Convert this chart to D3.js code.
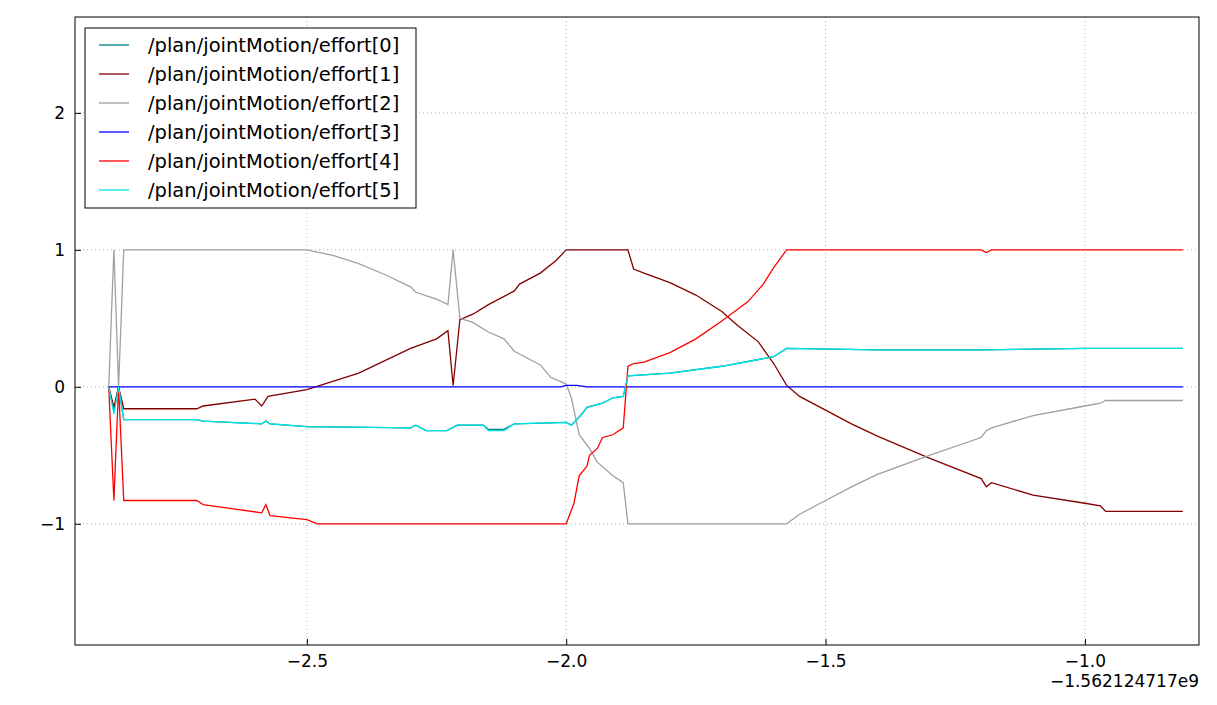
<!DOCTYPE html>
<html><head><meta charset="utf-8">
<script src="https://cdn.jsdelivr.net/npm/d3@7"></script>
<style>body{margin:0;background:#fff;font-family:"DejaVu Sans",sans-serif}</style>
</head><body>
<svg id="chart" width="1217" height="705"></svg>
<script>
const names = ["/plan/jointMotion/effort[0]","/plan/jointMotion/effort[1]","/plan/jointMotion/effort[2]",
  "/plan/jointMotion/effort[3]","/plan/jointMotion/effort[4]","/plan/jointMotion/effort[5]"];
const colors = ["#008080","#800000","#a0a0a0","#0000ff","#ff0000","#00e5e5"];
const xTicks = [-2.5, -2.0, -1.5, -1.0];
const yTicks = [-1, 0, 1, 2];

const effort5 = [[-2.882,0],[-2.872,-0.2],[-2.863,0],[-2.853,-0.24],[-2.712,-0.24],[-2.7,-0.25],[-2.587,-0.27],[-2.579,-0.25],[-2.571,-0.27],[-2.5,-0.29],[-2.3,-0.3],[-2.29,-0.28],[-2.27,-0.32],[-2.23,-0.32],[-2.21,-0.28],[-2.16,-0.28],[-2.15,-0.32],[-2.12,-0.32],[-2.1,-0.27],[-2.0,-0.26],[-1.99,-0.28],[-1.97,-0.2],[-1.96,-0.15],[-1.93,-0.12],[-1.91,-0.08],[-1.89,-0.07],[-1.881,0.08],[-1.8,0.1],[-1.7,0.15],[-1.6,0.22],[-1.575,0.28],[-1.4,0.27],[-1.2,0.27],[-1.0,0.28],[-0.811,0.28]];
const effort0 = [[-2.882,0],[-2.872,-0.17],[-2.863,0],[-2.853,-0.24],[-2.712,-0.24],[-2.7,-0.25],[-2.587,-0.27],[-2.579,-0.25],[-2.571,-0.27],[-2.5,-0.29],[-2.3,-0.3],[-2.29,-0.28],[-2.27,-0.32],[-2.23,-0.32],[-2.21,-0.28],[-2.16,-0.28],[-2.15,-0.31],[-2.12,-0.31],[-2.1,-0.27],[-2.0,-0.26],[-1.99,-0.28],[-1.97,-0.2],[-1.96,-0.15],[-1.93,-0.12],[-1.91,-0.08],[-1.89,-0.07],[-1.881,0.08],[-1.8,0.1],[-1.7,0.15],[-1.6,0.22],[-1.575,0.28],[-1.4,0.27],[-1.2,0.27],[-1.0,0.28],[-0.811,0.28]];
const effort1 = [[-2.882,0],[-2.872,-0.15],[-2.863,0],[-2.853,-0.16],[-2.712,-0.16],[-2.7,-0.14],[-2.6,-0.09],[-2.587,-0.14],[-2.575,-0.07],[-2.5,-0.02],[-2.4,0.1],[-2.3,0.28],[-2.25,0.35],[-2.228,0.41],[-2.218,0.01],[-2.205,0.49],[-2.18,0.53],[-2.15,0.6],[-2.1,0.7],[-2.09,0.75],[-2.05,0.83],[-2.02,0.92],[-2.0,1],[-1.881,1],[-1.87,0.86],[-1.85,0.83],[-1.8,0.76],[-1.75,0.67],[-1.7,0.55],[-1.67,0.45],[-1.63,0.33],[-1.6,0.17],[-1.575,0.01],[-1.55,-0.07],[-1.5,-0.17],[-1.45,-0.27],[-1.4,-0.36],[-1.3,-0.52],[-1.2,-0.67],[-1.19,-0.73],[-1.18,-0.7],[-1.1,-0.79],[-1.0,-0.85],[-0.97,-0.87],[-0.96,-0.91],[-0.811,-0.91]];
const effort2 = [[-2.882,0],[-2.872,1],[-2.863,0],[-2.853,1],[-2.5,1],[-2.45,0.96],[-2.4,0.9],[-2.35,0.82],[-2.3,0.73],[-2.29,0.69],[-2.25,0.64],[-2.228,0.6],[-2.218,1],[-2.205,0.5],[-2.18,0.47],[-2.15,0.4],[-2.12,0.35],[-2.1,0.26],[-2.05,0.16],[-2.03,0.07],[-2.0,0.02],[-1.99,-0.08],[-1.975,-0.35],[-1.955,-0.45],[-1.94,-0.55],[-1.91,-0.65],[-1.89,-0.7],[-1.881,-1],[-1.575,-1],[-1.55,-0.93],[-1.5,-0.83],[-1.45,-0.73],[-1.4,-0.64],[-1.3,-0.5],[-1.2,-0.37],[-1.19,-0.32],[-1.18,-0.3],[-1.1,-0.21],[-1.0,-0.14],[-0.97,-0.12],[-0.96,-0.1],[-0.811,-0.1]];
const effort3 = [[-2.882,0],[-2.1,0],[-2.01,0],[-2.0,0.01],[-1.98,0.01],[-1.96,0],[-0.811,0]];
const effort4 = [[-2.882,0],[-2.872,-0.83],[-2.863,0],[-2.853,-0.83],[-2.712,-0.83],[-2.7,-0.86],[-2.587,-0.92],[-2.579,-0.86],[-2.571,-0.94],[-2.5,-0.97],[-2.48,-1],[-2.0,-1],[-1.985,-0.85],[-1.975,-0.65],[-1.96,-0.58],[-1.955,-0.5],[-1.94,-0.45],[-1.93,-0.37],[-1.91,-0.35],[-1.89,-0.3],[-1.881,0.15],[-1.87,0.17],[-1.85,0.18],[-1.8,0.25],[-1.75,0.35],[-1.7,0.48],[-1.65,0.62],[-1.62,0.75],[-1.6,0.87],[-1.575,1],[-1.2,1],[-1.19,0.98],[-1.18,1],[-0.811,1]];
const series = [effort0, effort1, effort2, effort3, effort4, effort5];

const svg = d3.select("#chart");
const margin = {left: 75, right: 18, top: 17, bottom: 60};
const W = 1217, H = 705;
const x = d3.scaleLinear().domain([-2.947, -0.78]).range([margin.left, W - margin.right]);
const y = d3.scaleLinear().domain([-1.885, 2.7]).range([H - margin.bottom, margin.top]);
const fmt = d => d3.format(".1f")(d).replace("-", "\u2212");

// grid
svg.append("g").selectAll("line").data(xTicks).enter().append("line")
  .attr("x1", d => x(d)).attr("x2", d => x(d)).attr("y1", margin.top).attr("y2", H - margin.bottom)
  .attr("stroke", "#b0b0b0").attr("stroke-dasharray", "1,3");
svg.append("g").selectAll("line").data(yTicks).enter().append("line")
  .attr("y1", d => y(d)).attr("y2", d => y(d)).attr("x1", margin.left).attr("x2", W - margin.right)
  .attr("stroke", "#b0b0b0").attr("stroke-dasharray", "1,3");

// lines
const line = d3.line().x(d => x(d[0])).y(d => y(d[1]));
series.forEach((s, i) => {
  svg.append("path").datum(s).attr("fill", "none").attr("stroke", colors[i]).attr("stroke-width", 1.3).attr("d", line);
});

// axes
const xAxis = d3.axisBottom(x).tickValues(xTicks).tickFormat(fmt).tickSizeInner(-6).tickSizeOuter(0).tickPadding(10);
const yAxis = d3.axisLeft(y).tickValues(yTicks).tickFormat(d => String(d).replace("-", "\u2212")).tickSizeInner(-6).tickSizeOuter(0).tickPadding(10);
const gx = svg.append("g").attr("transform", `translate(0,${H - margin.bottom})`).call(xAxis);
const gy = svg.append("g").attr("transform", `translate(${margin.left},0)`).call(yAxis);
[gx, gy].forEach(g => { g.selectAll("text").style("font-size", "17px").style("font-family", "DejaVu Sans"); g.select(".domain").remove(); });
svg.append("rect").attr("x", margin.left).attr("y", margin.top).attr("width", W - margin.left - margin.right)
  .attr("height", H - margin.top - margin.bottom).attr("fill", "none").attr("stroke", "#000");
svg.append("text").attr("x", W - margin.right).attr("y", 687).attr("text-anchor", "end")
  .style("font-size", "17px").text("\u22121.562124717e9");

// legend
const lg = svg.append("g").attr("transform", "translate(85,28)");
lg.append("rect").attr("width", 331).attr("height", 180).attr("fill", "#fff").attr("stroke", "#000");
names.forEach((n, i) => {
  const yy = 17 + i * 29;
  lg.append("line").attr("x1", 14).attr("x2", 44).attr("y1", yy).attr("y2", yy).attr("stroke", colors[i]).attr("stroke-width", 1.3);
  lg.append("text").attr("x", 63).attr("y", yy + 7).style("font-size", "19.5px").text(n);
});
</script>
</body></html>
